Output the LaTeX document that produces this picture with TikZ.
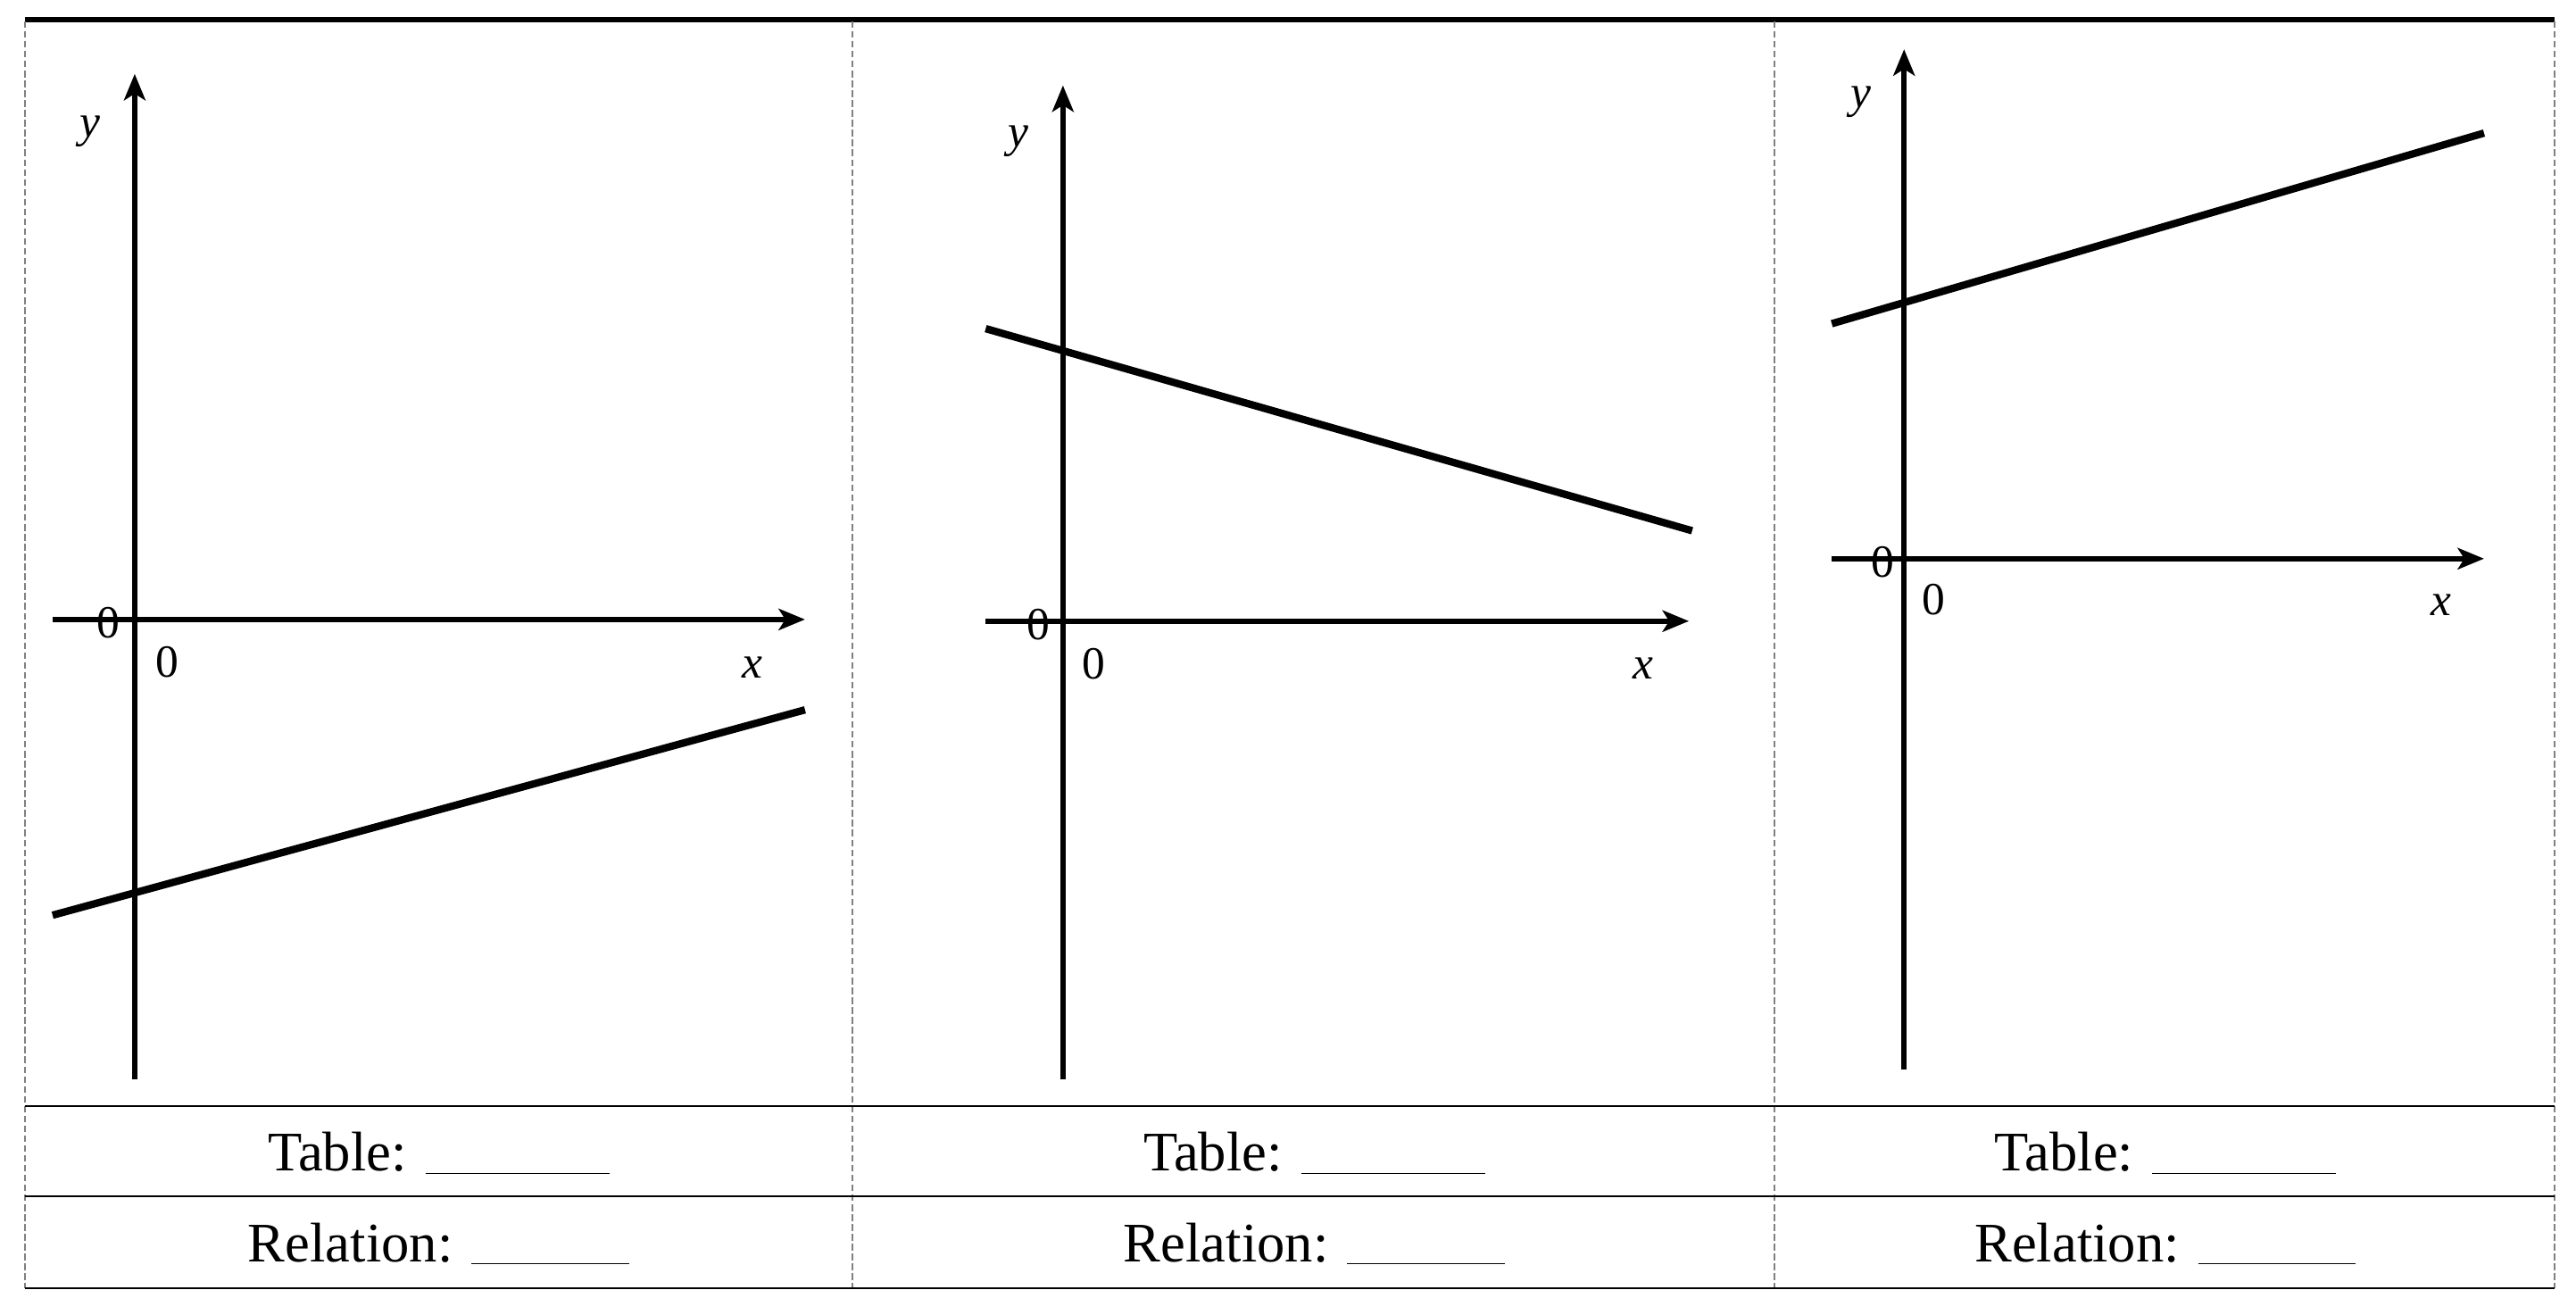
\documentclass[tikz,border=0pt]{standalone}
\usepackage{fontspec}
\setmainfont{Liberation Serif}
\usetikzlibrary{arrows.meta}
\begin{document}
\begin{tikzpicture}[x=1pt,y=-1pt,
  ax/.style={line width=3pt,-{Stealth[length=16pt,width=13pt,inset=4pt]}},
  gl/.style={line width=4.5pt},
  lbl/.style={inner sep=0pt,font=\fontsize{28}{30}\selectfont\itshape},
  zl/.style={inner sep=0pt,font=\fontsize{28}{30}\selectfont},
  txt/.style={inner sep=0pt,font=\fontsize{34}{38}\selectfont},
  dv/.style={gray,dashed,line width=1pt,dash pattern=on 4pt off 2pt}]
\useasboundingbox (0,0) rectangle (1568,800);
% grid
\draw[line width=3pt] (15,12) -- (1555,12);
\foreach \x in {15,519,1080,1555} \draw[dv] (\x,13) -- (\x,784);
\foreach \y in {673,728,784} \draw[line width=1.2pt] (15,\y) -- (1555,\y);
% labels
\foreach \c/\n in {267/a,800/b,1318/c}{
  \node[txt] (t\n) at (\c,702) {Table: \underline{\hspace{112pt}}};
  \node[txt] (r\n) at (\c,757) {Relation: \underline{\hspace{96pt}}};
}
% panel 1
\coordinate (y1b) at (82,657); \coordinate (y1t) at (82,45);
\coordinate (x1l) at (32,377); \coordinate (x1r) at (490,377);
\coordinate (l1a) at (32,557); \coordinate (l1b) at (490,432);
\draw[ax] (y1b) -- (y1t); \draw[ax] (x1l) -- (x1r); \draw[gl] (l1a) -- (l1b);
\node[lbl] (ya) at (55,80) {y}; \node[zl] (za1) at (66,379) {0};
\node[zl] (za2) at (102,403) {0}; \node[lbl] (xa) at (458,406) {x};
% panel 2
\coordinate (y2b) at (647,657); \coordinate (y2t) at (647,52);
\coordinate (x2l) at (600,378); \coordinate (x2r) at (1028,378);
\coordinate (l2a) at (600,200); \coordinate (l2b) at (1030,323);
\draw[ax] (y2b) -- (y2t); \draw[ax] (x2l) -- (x2r); \draw[gl] (l2a) -- (l2b);
\node[lbl] (yb) at (620,86) {y}; \node[zl] (zb1) at (632,380) {0};
\node[zl] (zb2) at (666,404) {0}; \node[lbl] (xb) at (1000,407) {x};
% panel 3
\coordinate (y3b) at (1159,651); \coordinate (y3t) at (1159,30);
\coordinate (x3l) at (1115,340); \coordinate (x3r) at (1512,340);
\coordinate (l3a) at (1115,197); \coordinate (l3b) at (1512,81);
\draw[ax] (y3b) -- (y3t); \draw[ax] (x3l) -- (x3r); \draw[gl] (l3a) -- (l3b);
\node[lbl] (yc) at (1133,62) {y}; \node[zl] (zc1) at (1146,342) {0};
\node[zl] (zc2) at (1177,365) {0}; \node[lbl] (xc) at (1486,368) {x};
\end{tikzpicture}
\end{document}
